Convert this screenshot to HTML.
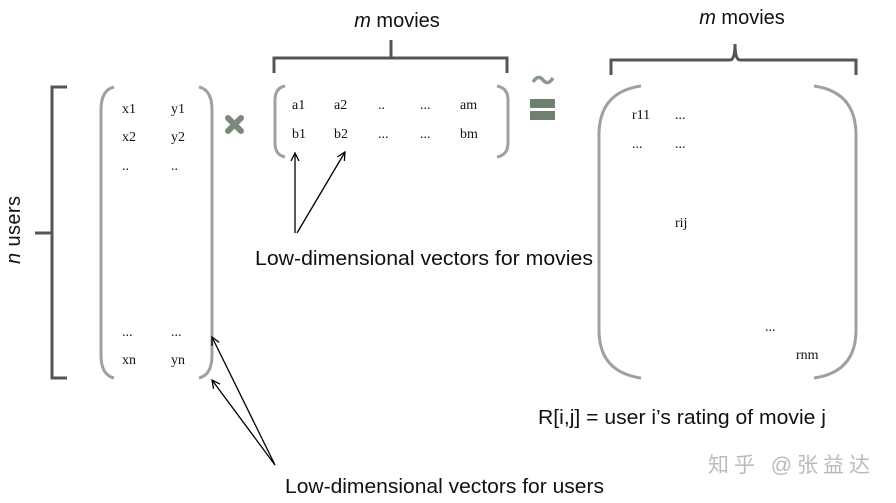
<!DOCTYPE html>
<html><head><meta charset="utf-8"><style>
html,body{margin:0;padding:0;background:#fff;}
svg{display:block}
.s{font-family:"Liberation Serif",serif;font-size:14px;fill:#111}
.l{font-family:"Liberation Sans",sans-serif;font-size:20px;fill:#111}
</style></head><body>
<svg width="896" height="503" viewBox="0 0 896 503" xmlns="http://www.w3.org/2000/svg">
<defs><marker id="a" markerWidth="10" markerHeight="10" refX="9" refY="5" orient="auto" markerUnits="userSpaceOnUse"><path d="M1,1 L9,5 L1,9" fill="none" stroke="#000" stroke-width="1.3"/></marker></defs>
<g stroke="#555" stroke-width="3" fill="none">
<path d="M67,87 H52 V378 H67"/><path d="M35,233 H52"/>
<path d="M274,73 V58 H507 V73"/><path d="M391,58 V40"/>
<path d="M611,75 V60 H730 Q735,60 735,44 Q735,60 740,60 H856 V75"/>
</g>
<text class="l" transform="translate(20,230) rotate(-90)" text-anchor="middle" textLength="68"><tspan font-style="italic">n</tspan> users</text>
<text class="l" x="397" y="27" text-anchor="middle"><tspan font-style="italic">m</tspan> movies</text>
<text class="l" x="742" y="24" text-anchor="middle"><tspan font-style="italic">m</tspan> movies</text>
<g stroke="#a0a0a0" stroke-width="3" fill="none">
<path d="M114,87 Q101,90 101,110 V355 Q101,375 114,378"/>
<path d="M199,87 Q212,90 212,110 V355 Q212,375 199,378"/>
<path d="M285,86 Q275,88 275,100 V143 Q275,155 285,157"/>
<path d="M497,86 Q508,88 508,100 V143 Q508,155 497,157"/>
<path d="M641,86 Q599,92 599,135 V330 Q599,372 641,378"/>
<path d="M814,86 Q856,92 856,135 V330 Q856,372 814,378"/>
</g>
<g class="s">
<text x="122" y="113">x1</text><text x="171" y="113">y1</text>
<text x="122" y="141">x2</text><text x="171" y="141">y2</text>
<text x="122" y="170">..</text><text x="171" y="170">..</text>
<text x="122" y="336">...</text><text x="171" y="336">...</text>
<text x="122" y="364">xn</text><text x="171" y="364">yn</text>
<text x="292" y="109">a1</text><text x="334" y="109">a2</text><text x="378" y="109">..</text><text x="420" y="109">...</text><text x="460" y="109">am</text>
<text x="292" y="138">b1</text><text x="334" y="138">b2</text><text x="378" y="138">...</text><text x="420" y="138">...</text><text x="460" y="138">bm</text>
<text x="632" y="119">r11</text><text x="675" y="119">...</text>
<text x="632" y="148">...</text><text x="675" y="148">...</text>
<text x="675" y="227">rij</text>
<text x="765" y="331">...</text>
<text x="796" y="359">rnm</text>
</g>
<g stroke="#7b8a7b" stroke-width="6" stroke-linecap="round"><path d="M228,118 L241,131 M241,118 L228,131"/></g>
<path d="M533,82 Q538,74 543,80 Q548,86 553,78" stroke="#8a9a8a" stroke-width="3.5" fill="none"/>
<rect x="530" y="99" width="25" height="9" fill="#6f806f"/><rect x="530" y="111" width="25" height="9" fill="#6f806f"/>
<g stroke="#000" stroke-width="1.3" fill="none" marker-end="url(#a)">
<path d="M295,233 L295,153"/><path d="M297,233 L345,152"/>
<path d="M275,465 L212,337"/><path d="M275,465 L212,380"/>
</g>
<text class="l" x="255" y="265" textLength="338" lengthAdjust="spacingAndGlyphs">Low-dimensional vectors for movies</text>
<text class="l" x="285" y="493" textLength="319" lengthAdjust="spacingAndGlyphs">Low-dimensional vectors for users</text>
<text class="l" x="538" y="424" textLength="288" lengthAdjust="spacingAndGlyphs">R[i,j] = user i’s rating of movie j</text>
<text x="708" y="472" font-family="'Liberation Sans','Noto Sans CJK SC',sans-serif" font-size="21" fill="#bbb" textLength="162">知乎 @张益达</text>
</svg>
</body></html>
